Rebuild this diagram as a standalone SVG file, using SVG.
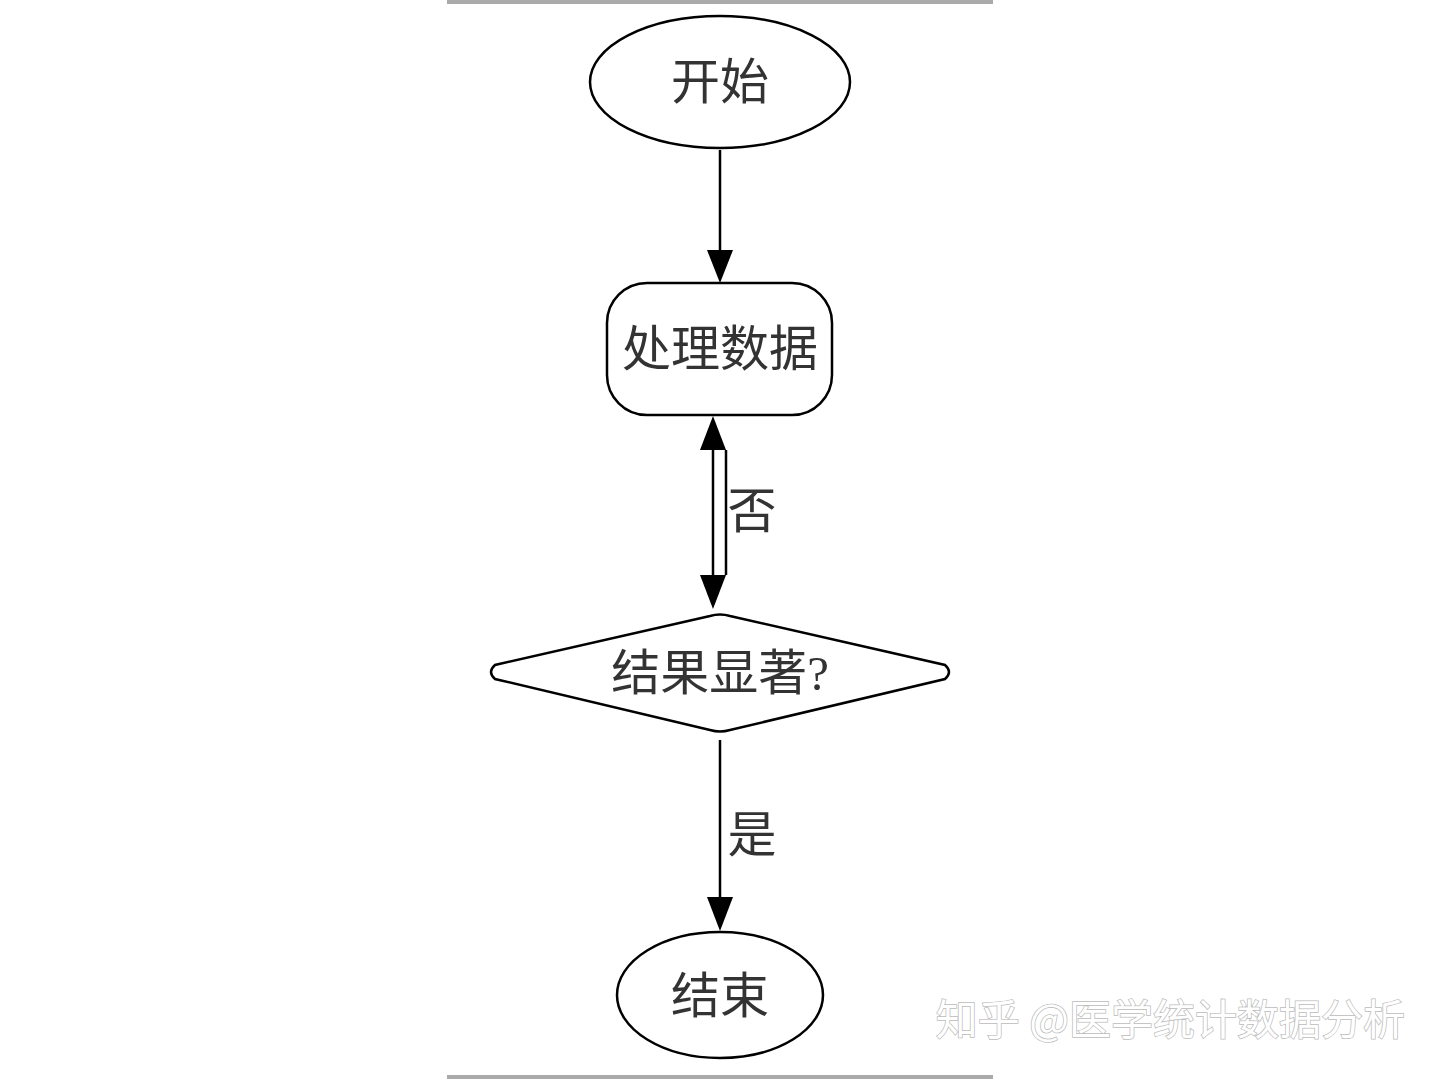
<svg xmlns="http://www.w3.org/2000/svg" width="1440" height="1080" viewBox="0 0 1440 1080">
<style>
.n{fill:#fff;stroke:#000;stroke-width:2.5}
.t{font-family:"Liberation Serif","Noto Sans CJK SC",serif;font-size:49px;fill:#333;text-anchor:middle}
.e{stroke:#000;stroke-width:2.5;fill:none}
</style>
<rect width="1440" height="1080" fill="#fff"/>
<line x1="447" y1="2" x2="993" y2="2" stroke="#aaa" stroke-width="4"/>
<line x1="447" y1="1077" x2="993" y2="1077" stroke="#aaa" stroke-width="4"/>
<g id="edges">
<line class="e" x1="720" y1="150" x2="720" y2="250"/>
<path d="M707,250 L733,250 L720,283 z"/>
<line class="e" x1="713" y1="450" x2="713" y2="575"/>
<path d="M700,450 L726,450 L713,416 z"/>
<line class="e" x1="726" y1="450" x2="726" y2="575"/>
<path d="M700,575 L726,575 L713,609 z"/>
<text class="t" x="752" y="528">否</text>
<line class="e" x1="720" y1="740" x2="720" y2="897"/>
<path d="M707,897 L733,897 L720,931 z"/>
<text class="t" x="752" y="852">是</text>
</g>
<g id="start"><ellipse class="n" cx="720" cy="82" rx="130" ry="66"/><text class="t" x="720" y="99">开始</text></g>
<g id="process"><rect class="n" x="607" y="283" width="225" height="132" rx="40"/><text class="t" x="720" y="366">处理数据</text></g>
<g id="decision"><path class="n" d="M495,665 Q487,672 495,679 L710,730 Q720,733 730,730 L945,679 Q953,672 945,665 L730,616 Q720,613 710,616 Z"/><text class="t" x="720" y="690">结果显著?</text></g>
<g id="end"><ellipse class="n" cx="720" cy="995" rx="103" ry="63"/><text class="t" x="720" y="1013">结束</text></g>
<text x="1405" y="1035" style="font-family:'Noto Sans CJK SC',sans-serif;font-size:42px;text-anchor:end;fill:#fff;stroke:#bbb;stroke-width:1.5;paint-order:stroke">知乎 @医学统计数据分析</text>
</svg>
